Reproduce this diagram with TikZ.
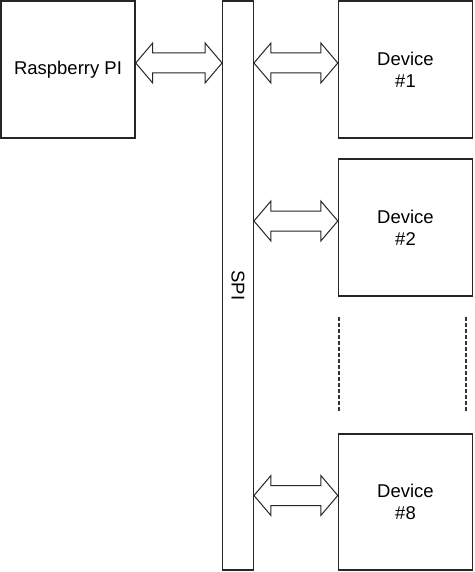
\documentclass[tikz,border=0pt]{standalone}
\usepackage{fontspec}
\setmainfont{Liberation Sans}
\usetikzlibrary{calc}
\begin{document}
\begin{tikzpicture}[x=1pt,y=-1pt,
  box/.style={draw=black!85,line width=1.4pt,rectangle,inner sep=0pt,
    align=center,font=\fontsize{18.5}{22}\selectfont},
  blk/.style={draw=black!85,line width=1pt,fill=white,line join=miter},
  dotsline/.style={draw=black!80,line width=1.2pt,dash pattern=on 3.5pt off 2.5pt}]
\useasboundingbox (0,0) rectangle (474,572);
\node[box,minimum width=134pt,minimum height=137pt] (pi) at (68,69.5) {Raspberry PI};
\node[box,minimum width=30.5pt,minimum height=569pt] (spi) at (238,285.5) {};
\node[rotate=-90,font=\fontsize{18.5}{22}\selectfont] (spilabel) at (spi.center) {SPI};
\node[box,minimum width=134pt,minimum height=137pt] (d1) at (405.5,69.5) {Device\\\#1};
\node[box,minimum width=134pt,minimum height=137pt] (d2) at (405.5,227.5) {Device\\\#2};
\node[box,minimum width=134pt,minimum height=136pt] (d8) at (405.5,502) {Device\\\#8};
\newcommand{\blockarrow}[2]{%
  \draw[blk] let \p1=($#1+(0,-6.5)$), \p2=($#2+(0,-6.5)$) in
    (\x1,\y1) -- (\x1+17pt,\y1+20pt) -- (\x1+17pt,\y1+10pt) -- (\x2-17pt,\y1+10pt)
    -- (\x2-17pt,\y1+20pt) -- (\x2,\y1) -- (\x2-17pt,\y1-20pt) -- (\x2-17pt,\y1-10pt)
    -- (\x1+17pt,\y1-10pt) -- (\x1+17pt,\y1-20pt) -- cycle;}
\blockarrow{(pi.east)}{(spi.west |- pi.east)}
\blockarrow{(spi.east |- d1.west)}{(d1.west)}
\blockarrow{(spi.east |- d2.west)}{(d2.west)}
\blockarrow{(spi.east |- d8.west)}{(d8.west)}
\coordinate (la) at (339,317);
\coordinate (lb) at (339,411);
\coordinate (ra) at (466,317);
\coordinate (rb) at (466,411);
\draw[dotsline] (la) -- (lb);
\draw[dotsline] (ra) -- (rb);
\end{tikzpicture}
\end{document}
